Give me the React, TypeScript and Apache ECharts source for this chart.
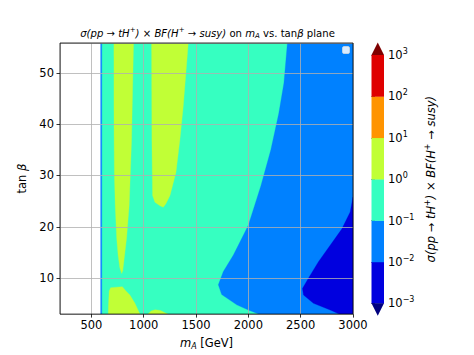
import React, { useEffect, useRef } from "react";
import * as echarts from "echarts";

const FONT = "DejaVu Sans";

// colour levels (log-spaced contour levels, jet colormap)
const levelBounds = [1e-3, 1e-2, 1e-1, 1, 10, 100, 1000];
const levelColors = ["#0000DF", "#0081FF", "#36FFC1", "#C1FF36", "#FF9400", "#DF0000"];
const underColor = "#00007F";
const overColor = "#7F0000";
const extendDecades = 0.3;

// axes ranges
const mARange = [200, 3000];
const tanbRange = [3, 55.8];

// contour regions, [m_A, tan beta] boundary points
const baseRegion = [[600, 3], [3000, 3], [3000, 55.8], [600, 55.8]];
const strip1 = [
  [715, 55.8], [716, 40], [720, 30], [728, 24], [742, 17.7], [755, 14.5], [772, 12], [790, 10.9],
  [800, 11.5], [806, 12.5], [836, 17.7], [861, 24.1], [884, 37], [903, 55.8],
];
const strip2 = [
  [1075, 55.8], [1078, 37], [1085, 26.1], [1107, 24.8], [1155, 24.1], [1187, 23.8], [1212, 24.5],
  [1251, 26.1], [1308, 30.6], [1346, 37], [1378, 43.5], [1426, 55.8],
];
const bottomPatchA = [
  [684, 8.15], [796, 8.35], [830, 7.5], [868, 6.7], [916, 5.1], [950, 3.6], [965, 3], [661, 3], [664, 5], [670, 7.5],
];
const bottomPatchB = [[1040, 3], [1070, 3.6], [1110, 3.85], [1160, 3.7], [1230, 3]];
const blueRegion = [
  [2373, 55.8], [2340, 48], [2290, 42], [2215, 35], [2120, 28], [2000, 20.3], [1857, 14.5], [1761, 11.3],
  [1713, 8.7], [1745, 6.8], [1889, 4.8], [2000, 3.8], [2100, 3], [3000, 3], [3000, 55.8],
];
const darkRegion = [
  [3000, 25.8], [2973, 22.9], [2894, 19.6], [2782, 16.4], [2670, 13.2], [2574, 10], [2517, 8], [2527, 6.7],
  [2622, 5.1], [2782, 3.8], [2870, 3], [3000, 3],
];
const edgeLine = [[588, 3], [600, 3], [600, 55.8], [588, 55.8]];

const regions = [baseRegion, strip1, strip2, bottomPatchA, bottomPatchB, blueRegion, darkRegion, edgeLine];
const regionLevels = [2, 3, 3, 3, 3, 1, 0, 1];

const supStyle = { fontFamily: FONT, fontSize: 8, lineHeight: 8, verticalAlign: "top", color: "#000" };

export default function App() {
  const ref = useRef<HTMLDivElement>(null);
  useEffect(() => {
    if (!ref.current) return;
    const chart = echarts.init(ref.current, null, { renderer: "svg" });
    const option: any = {
      animation: false,
      backgroundColor: "#fff",
      textStyle: { fontFamily: FONT },
      grid: [
        { left: 60, top: 43, width: 293, height: 273, show: true, borderColor: "#000", borderWidth: 0.8, backgroundColor: "transparent", z: 5 },
        { left: 371.5, top: 55, width: 12.5, height: 248.3 },
      ],
      xAxis: [
        {
          type: "value", gridIndex: 0, min: mARange[0], max: mARange[1], z: 4,
          axisLine: { show: false },
          axisTick: { show: true, length: 3.5, lineStyle: { color: "#000", width: 0.8 } },
          axisLabel: { fontFamily: FONT, fontSize: 11.5, color: "#000", margin: 5, showMinLabel: false, formatter: (v: number) => String(v) },
          splitLine: { show: true, lineStyle: { color: "#b0b0b0", width: 0.8 } },
          name: "{it|m}{sub|A} [GeV]", nameLocation: "middle", nameGap: 18,
          nameTextStyle: {
            fontFamily: FONT, fontSize: 11.5, color: "#000", lineHeight: 14,
            rich: {
              it: { fontFamily: FONT, fontSize: 11.5, fontStyle: "italic", lineHeight: 14, color: "#000" },
              sub: { fontFamily: FONT, fontSize: 8, fontStyle: "italic", lineHeight: 9, verticalAlign: "bottom", color: "#000" },
            },
          },
        },
        { type: "value", gridIndex: 1, min: 0, max: 1, show: false },
      ],
      yAxis: [
        {
          type: "value", gridIndex: 0, min: tanbRange[0], max: tanbRange[1], z: 4,
          axisLine: { show: false },
          axisTick: { show: true, length: 3.5, lineStyle: { color: "#000", width: 0.8 } },
          axisLabel: { fontFamily: FONT, fontSize: 11.5, color: "#000", margin: 6, showMinLabel: false, showMaxLabel: false },
          splitLine: { show: true, lineStyle: { color: "#b0b0b0", width: 0.8 } },
          name: "tan {it|β}", nameLocation: "middle", nameGap: 22,
          nameTextStyle: {
            fontFamily: FONT, fontSize: 11.5, color: "#000",
            rich: { it: { fontFamily: FONT, fontSize: 11.5, fontStyle: "italic", color: "#000" } },
          },
        },
        {
          type: "log", logBase: 10, gridIndex: 1, min: levelBounds[0], max: levelBounds[levelBounds.length - 1],
          position: "right",
          axisLine: { show: false },
          axisTick: { show: true, length: 3.5, lineStyle: { color: "#000", width: 0.8 } },
          splitLine: { show: false },
          axisLabel: {
            margin: 4,
            formatter: (v: number) => {
              const e = Math.round(Math.log10(v));
              return "{b|10}{s|" + (e < 0 ? "\u2212" + Math.abs(e) : String(e)) + "}";
            },
            rich: {
              b: { fontFamily: FONT, fontSize: 11.5, lineHeight: 15, color: "#000" },
              s: supStyle,
            },
          },
          name: "{it|σ(pp → tH}{s|+}{it|) × BF(H}{s|+}{it| → susy)}",
          nameLocation: "middle", nameRotate: 90, nameGap: 39,
          nameTextStyle: {
            fontFamily: FONT, fontSize: 11.5, color: "#000",
            rich: {
              it: { fontFamily: FONT, fontSize: 11.5, fontStyle: "italic", lineHeight: 15, color: "#000" },
              s: supStyle,
            },
          },
        },
      ],
      series: [
        {
          type: "custom", xAxisIndex: 0, yAxisIndex: 0, clip: true, z: 1, silent: true,
          data: regions.map((r, i) => [r[0][0], r[0][1], i]),
          renderItem: (params: any, api: any) => {
            const i = api.value(2);
            const pts = regions[i].map((p) => api.coord(p));
            const c = levelColors[regionLevels[i]];
            return { type: "polygon", shape: { points: pts }, style: { fill: c, stroke: c, lineWidth: 0.3 } };
          },
        },
        {
          type: "custom", xAxisIndex: 1, yAxisIndex: 1, clip: false, z: 1, silent: true,
          data: [...levelColors.map((c, i) => [0, levelBounds[i], i]), [0.5, levelBounds[0], 6], [0.5, levelBounds[6], 7]],
          renderItem: (params: any, api: any) => {
            const i = api.value(2);
            if (i < 6) {
              const p0 = api.coord([0, levelBounds[i]]);
              const p1 = api.coord([1, levelBounds[i + 1]]);
              return {
                type: "rect",
                shape: { x: p0[0], y: p1[1], width: p1[0] - p0[0], height: p0[1] - p1[1] + 0.3 },
                style: { fill: levelColors[i] },
              };
            }
            const base = i === 6 ? levelBounds[0] : levelBounds[6];
            const tip = i === 6 ? base / Math.pow(10, extendDecades) : base * Math.pow(10, extendDecades);
            const pts = [api.coord([0, base]), api.coord([1, base]), api.coord([0.5, tip])];
            return { type: "polygon", shape: { points: pts }, style: { fill: i === 6 ? underColor : overColor } };
          },
        },
      ],
      graphic: [
        {
          type: "text", x: 207.5, y: 33, z: 10,
          style: {
            text: "{it|σ(pp → tH}{s|+}{it|) × BF(H}{s|+}{it| → susy)} on {it|m}{sub|A} vs. tan{it|β} plane",
            align: "center", verticalAlign: "middle",
            fontFamily: FONT, fontSize: 10.1, fill: "#000",
            rich: {
              it: { fontFamily: FONT, fontSize: 10.1, fontStyle: "italic", lineHeight: 13, fill: "#000" },
              s: { fontFamily: FONT, fontSize: 7, lineHeight: 7, verticalAlign: "top", fill: "#000" },
              sub: { fontFamily: FONT, fontSize: 7, fontStyle: "italic", lineHeight: 8, verticalAlign: "bottom", fill: "#000" },
            },
          },
        },
        {
          type: "rect", x: 342.5, y: 46.5, z: 10,
          shape: { width: 7, height: 7, r: 1.5 },
          style: { fill: "rgba(255,255,255,0.85)", stroke: "rgba(220,220,220,0.9)", lineWidth: 0.8 },
        },
      ],
    };
    chart.setOption(option);
    return () => chart.dispose();
  }, []);
  return <div ref={ref} style={{ position: "fixed", left: 0, top: 0, width: 474, height: 355 }} />;
}
